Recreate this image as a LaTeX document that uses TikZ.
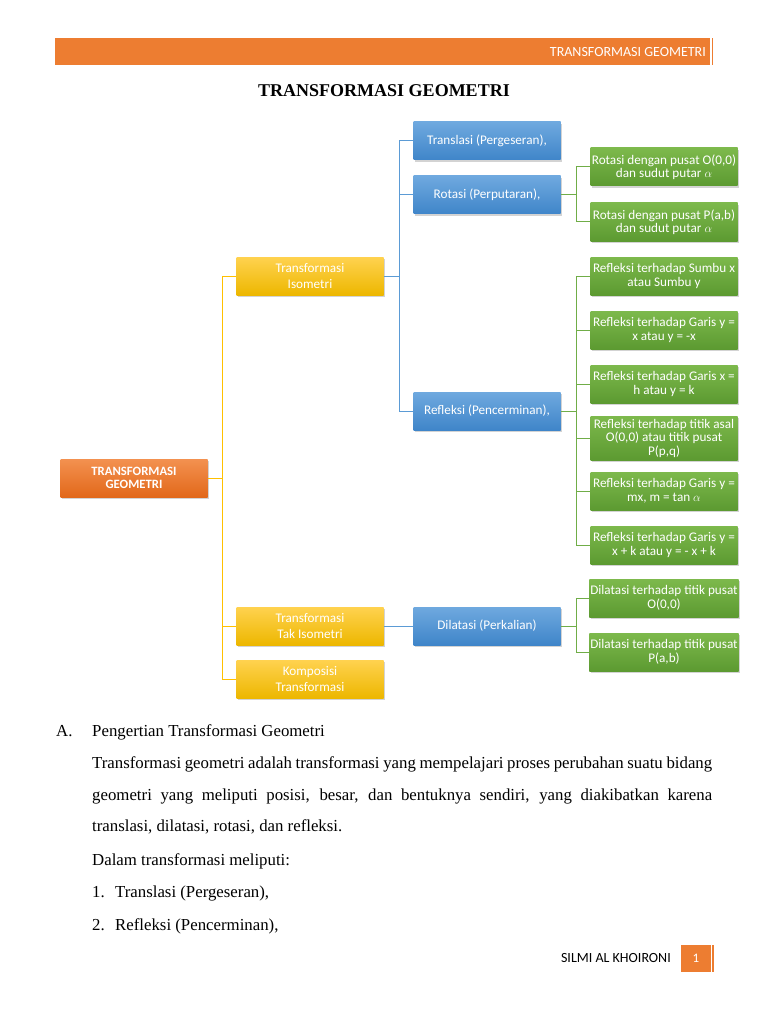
\documentclass[tikz,border=0pt]{standalone}
\usepackage{fontspec}
\setmainfont{Liberation Serif}
\newfontfamily\calibri{Carlito}
\usetikzlibrary{shadows}

\definecolor{hdr}{HTML}{ED7D31}
\definecolor{ylwT}{HTML}{FFD24F}
\definecolor{ylwB}{HTML}{EDB700}
\definecolor{ylwL}{HTML}{FFC000}
\definecolor{bluT}{HTML}{6FA9DF}
\definecolor{bluB}{HTML}{3F85C9}
\definecolor{bluL}{HTML}{5B9BD5}
\definecolor{grnT}{HTML}{7DB94C}
\definecolor{grnB}{HTML}{5C9A31}
\definecolor{grnL}{HTML}{70AD47}
\definecolor{orgT}{HTML}{F39150}
\definecolor{orgB}{HTML}{E2681A}

\tikzset{
  box/.style={minimum width=147pt, minimum height=38pt, inner sep=1pt, align=center,
    text=white, font=\calibri\fontsize{13.2}{13.5}\selectfont,
    drop shadow={opacity=0.35, shadow xshift=1.5pt, shadow yshift=-2pt}},
  rootbox/.style={box, top color=orgT, bottom color=orgB,
    font=\calibri\bfseries\fontsize{12.7}{13}\selectfont},
  ylwbox/.style={box, top color=ylwT, bottom color=ylwB,
    font=\calibri\fontsize{13.2}{16.5}\selectfont},
  blubox/.style={box, top color=bluT, bottom color=bluB},
  grnbox/.style={box, top color=grnT, bottom color=grnB},
  ylwline/.style={draw=ylwL, line width=1pt},
  bluline/.style={draw=bluL, line width=1pt},
  grnline/.style={draw=grnL, line width=1pt},
  body/.style={anchor=base west, inner sep=0pt, font=\fontsize{16.8}{19}\selectfont},
}

\begin{document}
\begin{tikzpicture}[x=1pt, y=-1pt]
\useasboundingbox (0,0) rectangle (768,1024);
% header
\fill[hdr] (55,38) rectangle (710,65);
\fill[hdr] (711.5,38) rectangle (713,65);
\node[anchor=east, inner sep=0pt, text=white, font=\calibri\fontsize{14}{16}\selectfont] (H_0) at (706,52) {TRANSFORMASI GEOMETRI};
\node[font=\bfseries\fontsize{18}{20}\selectfont] (H_1) at (384,91) {TRANSFORMASI GEOMETRI};
% diagram
\node[rootbox] (T_0_0) at (134,478) {TRANSFORMASI\\GEOMETRI};
\node[ylwbox] (T_1_0) at (310,276) {Transformasi\\Isometri};
\node[ylwbox] (T_1_1) at (310,626) {Transformasi\\Tak Isometri};
\node[ylwbox] (T_1_2) at (310,679) {Komposisi\\Transformasi};
\node[blubox] (T_2_0) at (487,141) {Translasi (Pergeseran),};
\node[blubox] (T_2_1) at (487,195) {Rotasi (Perputaran),};
\node[blubox] (T_2_2) at (487,411) {Refleksi (Pencerminan),};
\node[blubox] (T_2_3) at (487,626) {Dilatasi (Perkalian)};
\node[grnbox] (T_3_0) at (664,167) {Rotasi dengan pusat O(0,0)\\dan sudut putar \(\alpha\)};
\node[grnbox] (T_3_1) at (664,222) {Rotasi dengan pusat P(a,b)\\dan sudut putar \(\alpha\)};
\node[grnbox] (T_3_2) at (664,276) {Refleksi terhadap Sumbu x\\atau Sumbu y};
\node[grnbox] (T_3_3) at (664,330) {Refleksi terhadap Garis y =\\x atau y = -x};
\node[grnbox] (T_3_4) at (664,384) {Refleksi terhadap Garis x =\\h atau y = k};
\node[grnbox, minimum height=44pt] (T_3_5) at (664,438) {Refleksi terhadap titik asal\\O(0,0) atau titik pusat\\P(p,q)};
\node[grnbox] (T_3_6) at (664,491) {Refleksi terhadap Garis y =\\mx, m = tan \(\alpha\)};
\node[grnbox] (T_3_7) at (664,545) {Refleksi terhadap Garis y =\\x + k atau y = - x + k};
\node[grnbox] (T_3_8) at (664,598) {Dilatasi terhadap titik pusat\\O(0,0)};
\node[grnbox] (T_3_9) at (664,652) {Dilatasi terhadap titik pusat\\P(a,b)};
% connectors
\coordinate (J_0) at (222,478);
\draw[ylwline] (T_0_0.east) -- (J_0);
\draw[ylwline] (J_0) |- (T_1_0.west);
\draw[ylwline] (J_0) |- (T_1_1.west);
\draw[ylwline] (J_0) |- (T_1_2.west);
\coordinate (J_1) at (399,276);
\draw[bluline] (T_1_0.east) -- (J_1);
\draw[bluline] (J_1) |- (T_2_0.west);
\draw[bluline] (J_1) |- (T_2_1.west);
\draw[bluline] (J_1) |- (T_2_2.west);
\draw[bluline] (T_1_1.east) -- (T_2_3.west);
\coordinate (J_2) at (576,195);
\draw[grnline] (T_2_1.east) -- (J_2);
\draw[grnline] (J_2) |- (T_3_0.west);
\draw[grnline] (J_2) |- (T_3_1.west);
\coordinate (J_3) at (576,411);
\draw[grnline] (T_2_2.east) -- (J_3);
\draw[grnline] (J_3) |- (T_3_2.west);
\draw[grnline] (J_3) |- (T_3_3.west);
\draw[grnline] (J_3) |- (T_3_4.west);
\draw[grnline] (J_3) |- (T_3_5.west);
\draw[grnline] (J_3) |- (T_3_6.west);
\draw[grnline] (J_3) |- (T_3_7.west);
\coordinate (J_4) at (576,626);
\draw[grnline] (T_2_3.east) -- (J_4);
\draw[grnline] (J_4) |- (T_3_8.west);
\draw[grnline] (J_4) |- (T_3_9.west);
% text
\node[body] (A_0) at (56,736) {A.};
\node[body] (A_1) at (92,736) {Pengertian Transformasi Geometri};
\node[body] (L_1) at (92,768) {\makebox[620pt][s]{Transformasi geometri adalah transformasi yang mempelajari proses perubahan suatu bidang}};
\node[body] (L_2) at (92,800) {\makebox[620pt][s]{geometri yang meliputi posisi, besar, dan bentuknya sendiri, yang diakibatkan karena}};
\node[body] (L_3) at (92,831) {translasi, dilatasi, rotasi, dan refleksi.};
\node[body] (L_4) at (92,865) {Dalam transformasi meliputi:};
\node[body] (L_5) at (92,897) {1.};
\node[body] (L_6) at (115,897) {Translasi (Pergeseran),};
\node[body] (L_7) at (92,930) {2.};
\node[body] (L_8) at (115,930) {Refleksi (Pencerminan),};
% footer
\node[anchor=east, inner sep=0pt, font=\calibri\fontsize{14}{16}\selectfont] (F_0) at (671,958) {SILMI AL KHOIRONI};
\node[fill=hdr, minimum width=30pt, minimum height=27pt, inner sep=0pt, text=white, font=\calibri\fontsize{13}{15}\selectfont] (F_1) at (696,958.5) {1};
\fill[hdr] (712,945) rectangle (713.5,972);
\end{tikzpicture}
\end{document}
